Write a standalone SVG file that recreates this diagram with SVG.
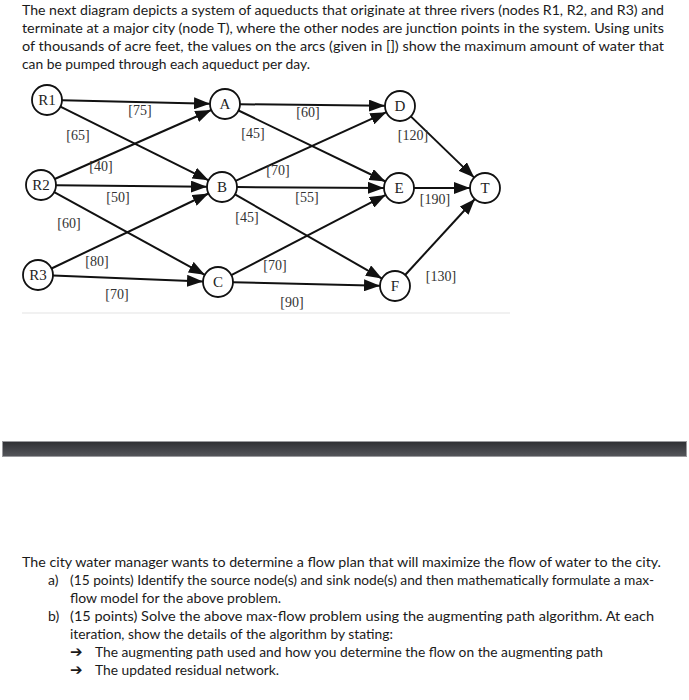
<svg xmlns="http://www.w3.org/2000/svg" width="689" height="700" viewBox="0 0 689 700">
<style>
.para{font-family:Lato,"Liberation Sans",sans-serif;font-size:14px;fill:#1a1a1a}
.node circle{fill:#fff;stroke:#111;stroke-width:1.8}
.node text{font-family:"Liberation Serif",serif;font-size:15px;fill:#222;text-anchor:middle}
.edges line{stroke:#111;stroke-width:2}
.lbl{font-family:"Liberation Serif",serif;font-size:14px;fill:#333;text-anchor:middle}
.arrowsym{font-family:"DejaVu Sans",sans-serif;font-size:15px;font-weight:bold;fill:#1a1a1a}
</style>
<defs>
<marker id="ah" markerUnits="userSpaceOnUse" markerWidth="16" markerHeight="12" refX="16" refY="6" orient="auto">
<path d="M0,0 L16,6 L0,12 z" fill="#111"/>
</marker>
<linearGradient id="bar" x1="0" y1="0" x2="0" y2="1">
<stop offset="0" stop-color="#2f3034"/>
<stop offset="1" stop-color="#55565b"/>
</linearGradient>
</defs>
<rect width="689" height="700" fill="#fff"/>
<g id="intro">
<text class="para" x="22" y="15" textLength="642" lengthAdjust="spacingAndGlyphs">The next diagram depicts a system of aqueducts that originate at three rivers (nodes R1, R2, and R3) and</text>
<text class="para" x="22" y="33" textLength="642" lengthAdjust="spacingAndGlyphs">terminate at a major city (node T), where the other nodes are junction points in the system. Using units</text>
<text class="para" x="22" y="51" textLength="642" lengthAdjust="spacingAndGlyphs">of thousands of acre feet, the values on the arcs (given in []) show the maximum amount of water that</text>
<text class="para" x="22" y="69" textLength="288" lengthAdjust="spacingAndGlyphs">can be pumped through each aqueduct per day.</text>
</g>
<line x1="22" y1="313" x2="510" y2="313" stroke="#ececec" stroke-width="1.5"/>
<g id="connectors" class="edges">
<line x1="62" y1="100.3" x2="210" y2="103.7" marker-end="url(#ah)"/>
<line x1="60.4" y1="106.7" x2="208.6" y2="180.3" marker-end="url(#ah)"/>
<line x1="54.7" y1="179" x2="211.3" y2="110" marker-end="url(#ah)"/>
<line x1="56" y1="185.2" x2="207" y2="186.8" marker-end="url(#ah)"/>
<line x1="54.2" y1="192.2" x2="204.8" y2="274.8" marker-end="url(#ah)"/>
<line x1="51.5" y1="268.5" x2="208.5" y2="193.5" marker-end="url(#ah)"/>
<line x1="53" y1="275.6" x2="203" y2="281.4" marker-end="url(#ah)"/>
<line x1="240" y1="104.2" x2="385" y2="105.8" marker-end="url(#ah)"/>
<line x1="238.5" y1="110.5" x2="385.5" y2="181.5" marker-end="url(#ah)"/>
<line x1="235.6" y1="180.8" x2="386.4" y2="112.2" marker-end="url(#ah)"/>
<line x1="237" y1="187.1" x2="384" y2="187.9" marker-end="url(#ah)"/>
<line x1="235" y1="194.4" x2="382" y2="278.6" marker-end="url(#ah)"/>
<line x1="231.3" y1="275.1" x2="385.7" y2="194.9" marker-end="url(#ah)"/>
<line x1="233" y1="282.3" x2="380" y2="285.7" marker-end="url(#ah)"/>
<line x1="410.8" y1="116.4" x2="474.2" y2="177.6" marker-end="url(#ah)"/>
<line x1="414" y1="188" x2="470" y2="188" marker-end="url(#ah)"/>
<line x1="405.1" y1="275" x2="474.9" y2="199" marker-end="url(#ah)"/>
<text class="lbl" x="140" y="115">[75]</text>
<text class="lbl" x="78" y="140">[65]</text>
<text class="lbl" x="101" y="171">[40]</text>
<text class="lbl" x="118" y="202">[50]</text>
<text class="lbl" x="69" y="228">[60]</text>
<text class="lbl" x="97" y="266">[80]</text>
<text class="lbl" x="117" y="299">[70]</text>
<text class="lbl" x="308" y="117">[60]</text>
<text class="lbl" x="253" y="138">[45]</text>
<text class="lbl" x="278" y="175">[70]</text>
<text class="lbl" x="307" y="202">[55]</text>
<text class="lbl" x="247" y="222">[45]</text>
<text class="lbl" x="275" y="270">[70]</text>
<text class="lbl" x="292" y="307">[90]</text>
<text class="lbl" x="413" y="140">[120]</text>
<text class="lbl" x="435" y="204">[190]</text>
<text class="lbl" x="441" y="281">[130]</text>
</g>
<g id="R1" class="node"><circle cx="47" cy="100" r="15"/><text x="47" y="105">R1</text></g>
<g id="R2" class="node"><circle cx="41" cy="185" r="15"/><text x="41" y="190">R2</text></g>
<g id="R3" class="node"><circle cx="38" cy="275" r="15"/><text x="38" y="280">R3</text></g>
<g id="A" class="node"><circle cx="225" cy="104" r="15"/><text x="225" y="109">A</text></g>
<g id="B" class="node"><circle cx="222" cy="187" r="15"/><text x="222" y="192">B</text></g>
<g id="C" class="node"><circle cx="218" cy="282" r="15"/><text x="218" y="287">C</text></g>
<g id="D" class="node"><circle cx="400" cy="106" r="15"/><text x="400" y="111">D</text></g>
<g id="E" class="node"><circle cx="399" cy="188" r="15"/><text x="399" y="193">E</text></g>
<g id="F" class="node"><circle cx="395" cy="286" r="15"/><text x="395" y="291">F</text></g>
<g id="T" class="node"><circle cx="485" cy="188" r="15"/><text x="485" y="193">T</text></g>
<rect x="2.5" y="441.5" width="684" height="15" fill="url(#bar)" stroke="#9a9a9e" stroke-width="1"/>
<g id="questions">
<text class="para" x="22" y="567" textLength="639" lengthAdjust="spacingAndGlyphs">The city water manager wants to determine a flow plan that will maximize the flow of water to the city.</text>
<text class="para" x="48" y="585">a)</text>
<text class="para" x="70" y="585" textLength="584" lengthAdjust="spacingAndGlyphs">(15 points) Identify the source node(s) and sink node(s) and then mathematically formulate a max-</text>
<text class="para" x="70" y="603" textLength="211" lengthAdjust="spacingAndGlyphs">flow model for the above problem.</text>
<text class="para" x="48" y="621">b)</text>
<text class="para" x="70" y="621" textLength="584" lengthAdjust="spacingAndGlyphs">(15 points) Solve the above max-flow problem using the augmenting path algorithm. At each</text>
<text class="para" x="70" y="639" textLength="323" lengthAdjust="spacingAndGlyphs">iteration, show the details of the algorithm by stating:</text>
<text class="arrowsym" x="70" y="657">➔</text>
<text class="para" x="95" y="657" textLength="508" lengthAdjust="spacingAndGlyphs">The augmenting path used and how you determine the flow on the augmenting path</text>
<text class="arrowsym" x="70" y="675">➔</text>
<text class="para" x="95" y="675" textLength="184" lengthAdjust="spacingAndGlyphs">The updated residual network.</text>
</g>
</svg>
